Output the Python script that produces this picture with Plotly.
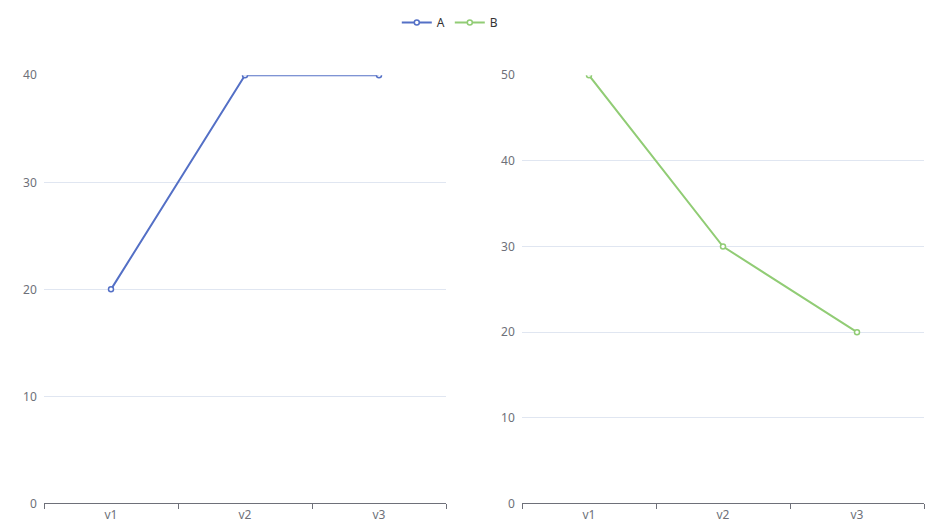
import plotly.graph_objects as go

categories = ["v1", "v2", "v3"]
series_a = [20, 40, 40]
series_b = [50, 30, 20]

BLUE = "#5470c6"
GREEN = "#91cc75"

fig = go.Figure()
fig.add_trace(go.Scatter(x=categories, y=series_a, name="A", mode="lines+markers",
                         line=dict(color=BLUE, width=2),
                         marker=dict(symbol="circle", size=5, color="white", line=dict(width=1.5, color=BLUE)),
                         xaxis="x", yaxis="y"))
fig.add_trace(go.Scatter(x=categories, y=series_b, name="B", mode="lines+markers",
                         line=dict(color=GREEN, width=2),
                         marker=dict(symbol="circle", size=5, color="white", line=dict(width=1.5, color=GREEN)),
                         xaxis="x2", yaxis="y2"))

xa = dict(type="category", range=[-0.5, 2.5], showgrid=False, showline=True,
          linecolor="#6e7079", ticks="", tickfont=dict(color="#6e7079", size=12),
          minor=dict(tickmode="array", tickvals=[-0.5, 0.5, 1.5, 2.5], ticks="outside",
                     ticklen=5, tickcolor="#6e7079"),
          zeroline=False, fixedrange=True)
ya = dict(gridcolor="#e0e6f1", zeroline=False, showline=False, ticks="",
          tickfont=dict(color="#6e7079", size=12), ticksuffix="  ")

fig.update_layout(
    width=940, height=527, margin=dict(l=0, r=0, t=0, b=0),
    paper_bgcolor="white", plot_bgcolor="white",
    font=dict(family="Microsoft YaHei, Noto Sans, sans-serif", color="#333"),
    xaxis=dict(xa, domain=[36 / 940, 438 / 940], anchor="y"),
    xaxis2=dict(xa, domain=[514 / 940, 916 / 940], anchor="y2"),
    yaxis=dict(ya, domain=[25 / 527, 479 / 527], range=[0, 40], dtick=10, anchor="x"),
    yaxis2=dict(ya, domain=[25 / 527, 479 / 527], range=[0, 50], dtick=10, anchor="x2"),
    legend=dict(orientation="h", x=0.47, xanchor="center", y=1.045, yanchor="top",
                font=dict(size=12, color="#333"), itemwidth=30),
    showlegend=True,
)

fig.write_html("out.html")
